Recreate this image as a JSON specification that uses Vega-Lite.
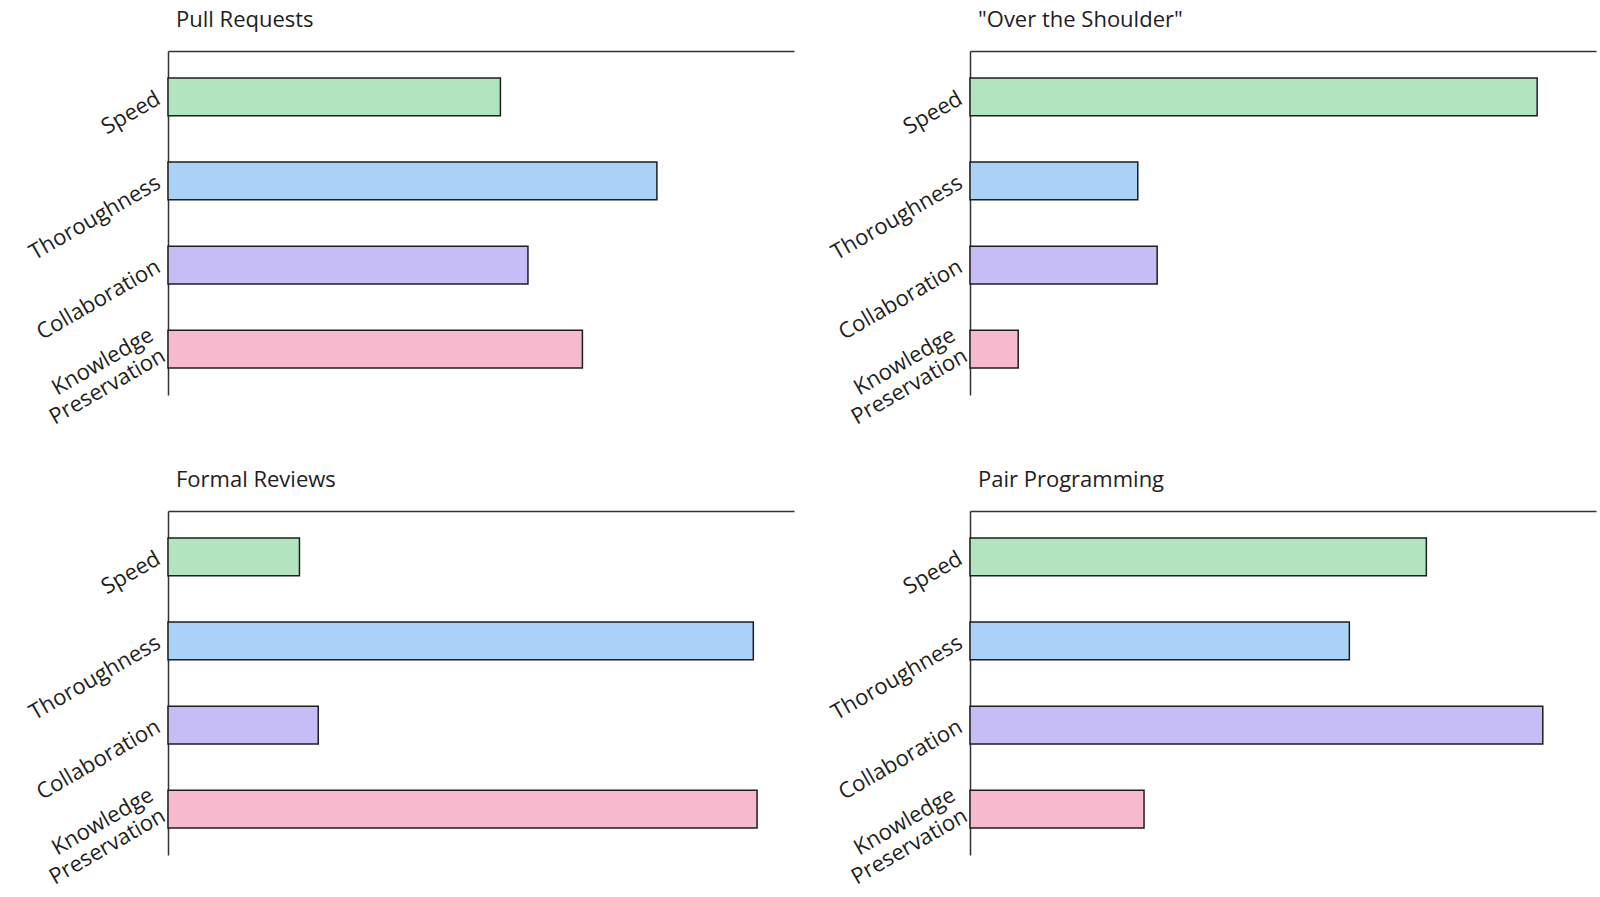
{
  "$schema": "https://vega.github.io/schema/vega-lite/v6.json",
  "background": "white",
  "padding": {"left": 25, "top": 9, "right": 5, "bottom": 36},
  "config": {
    "view": {"stroke": null},
    "font": "Open Sans",
    "title": {"anchor": "start", "frame": "group", "dx": 8, "offset": 19, "fontSize": 22, "fontWeight": "normal", "color": "#1e1e1e", "font": "Open Sans"},
    "axisY": {"title": null, "ticks": false, "labelAngle": -30, "labelAlign": "right", "labelBaseline": "middle", "labelFontSize": 22, "labelColor": "#1e1e1e",
      "labelPadding": {"condition": {"test": "datum.value == 'Knowledge Preservation'", "value": 17}, "value": 10},
      "labelOffset": {"condition": {"test": "datum.value == 'Knowledge Preservation'", "value": -16}, "value": 0},
      "domainColor": "#333333", "domainWidth": 1.5,
      "labelExpr": "datum.value == 'Knowledge Preservation' ? ['Knowledge', 'Preservation'] : datum.value"},
    "axisX": {"orient": "top", "title": null, "labels": false, "ticks": false, "grid": false, "domainColor": "#333333", "domainWidth": 1.5}
  },
  "data": {
    "values": [
      {"method": "Pull Requests", "criterion": "Speed", "value": 53.1},
      {"method": "Pull Requests", "criterion": "Thoroughness", "value": 78.1},
      {"method": "Pull Requests", "criterion": "Collaboration", "value": 57.5},
      {"method": "Pull Requests", "criterion": "Knowledge Preservation", "value": 66.2},
      {"method": "Over the Shoulder", "criterion": "Speed", "value": 90.6},
      {"method": "Over the Shoulder", "criterion": "Thoroughness", "value": 26.8},
      {"method": "Over the Shoulder", "criterion": "Collaboration", "value": 29.9},
      {"method": "Over the Shoulder", "criterion": "Knowledge Preservation", "value": 7.7},
      {"method": "Formal Reviews", "criterion": "Speed", "value": 21.0},
      {"method": "Formal Reviews", "criterion": "Thoroughness", "value": 93.5},
      {"method": "Formal Reviews", "criterion": "Collaboration", "value": 24.0},
      {"method": "Formal Reviews", "criterion": "Knowledge Preservation", "value": 94.1},
      {"method": "Pair Programming", "criterion": "Speed", "value": 72.9},
      {"method": "Pair Programming", "criterion": "Thoroughness", "value": 60.6},
      {"method": "Pair Programming", "criterion": "Collaboration", "value": 91.5},
      {"method": "Pair Programming", "criterion": "Knowledge Preservation", "value": 27.8}
    ]
  },
  "columns": 2,
  "bounds": "flush",
  "spacing": {"column": 176, "row": 116},
  "concat": [
    {
      "title": "Pull Requests",
      "width": 626, "height": 344,
      "transform": [{"filter": "datum.method === 'Pull Requests'"}],
      "mark": {"type": "bar", "stroke": "#1e1e1e", "strokeWidth": 1.5},
      "encoding": {
        "y": {"field": "criterion", "type": "nominal", "sort": ["Speed", "Thoroughness", "Collaboration", "Knowledge Preservation"],
          "scale": {"paddingInner": 0.55, "paddingOuter": 0.32}},
        "x": {"field": "value", "type": "quantitative", "scale": {"domain": [0, 100]}, "axis": {"orient": "top"}},
        "color": {"field": "criterion", "type": "nominal", "legend": null,
          "scale": {"domain": ["Speed", "Thoroughness", "Collaboration", "Knowledge Preservation"], "range": ["#b3e4c0", "#a9d2f6", "#c7bdf6", "#f6b9cd"]}}
      }
    },
    {
      "title": "\"Over the Shoulder\"",
      "width": 626, "height": 344,
      "transform": [{"filter": "datum.method === 'Over the Shoulder'"}],
      "mark": {"type": "bar", "stroke": "#1e1e1e", "strokeWidth": 1.5},
      "encoding": {
        "y": {"field": "criterion", "type": "nominal", "sort": ["Speed", "Thoroughness", "Collaboration", "Knowledge Preservation"],
          "scale": {"paddingInner": 0.55, "paddingOuter": 0.32}},
        "x": {"field": "value", "type": "quantitative", "scale": {"domain": [0, 100]}, "axis": {"orient": "top"}},
        "color": {"field": "criterion", "type": "nominal", "legend": null,
          "scale": {"domain": ["Speed", "Thoroughness", "Collaboration", "Knowledge Preservation"], "range": ["#b3e4c0", "#a9d2f6", "#c7bdf6", "#f6b9cd"]}}
      }
    },
    {
      "title": "Formal Reviews",
      "width": 626, "height": 344,
      "transform": [{"filter": "datum.method === 'Formal Reviews'"}],
      "mark": {"type": "bar", "stroke": "#1e1e1e", "strokeWidth": 1.5},
      "encoding": {
        "y": {"field": "criterion", "type": "nominal", "sort": ["Speed", "Thoroughness", "Collaboration", "Knowledge Preservation"],
          "scale": {"paddingInner": 0.55, "paddingOuter": 0.32}},
        "x": {"field": "value", "type": "quantitative", "scale": {"domain": [0, 100]}, "axis": {"orient": "top"}},
        "color": {"field": "criterion", "type": "nominal", "legend": null,
          "scale": {"domain": ["Speed", "Thoroughness", "Collaboration", "Knowledge Preservation"], "range": ["#b3e4c0", "#a9d2f6", "#c7bdf6", "#f6b9cd"]}}
      }
    },
    {
      "title": "Pair Programming",
      "width": 626, "height": 344,
      "transform": [{"filter": "datum.method === 'Pair Programming'"}],
      "mark": {"type": "bar", "stroke": "#1e1e1e", "strokeWidth": 1.5},
      "encoding": {
        "y": {"field": "criterion", "type": "nominal", "sort": ["Speed", "Thoroughness", "Collaboration", "Knowledge Preservation"],
          "scale": {"paddingInner": 0.55, "paddingOuter": 0.32}},
        "x": {"field": "value", "type": "quantitative", "scale": {"domain": [0, 100]}, "axis": {"orient": "top"}},
        "color": {"field": "criterion", "type": "nominal", "legend": null,
          "scale": {"domain": ["Speed", "Thoroughness", "Collaboration", "Knowledge Preservation"], "range": ["#b3e4c0", "#a9d2f6", "#c7bdf6", "#f6b9cd"]}}
      }
    }
  ]
}
